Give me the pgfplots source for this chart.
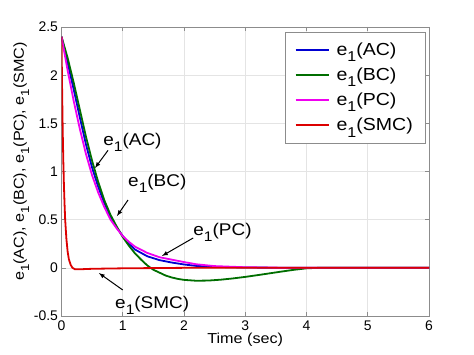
\documentclass[border=0pt]{standalone}
\usepackage{pgfplots}
\pgfplotsset{compat=1.18}
\usepackage{fontspec}
\setmainfont{Liberation Sans}
\newfontfamily\wide[FakeStretch=1.12]{Liberation Sans}
\definecolor{cAC}{RGB}{0,0,210}
\definecolor{cBC}{RGB}{0,110,0}
\definecolor{cPC}{RGB}{240,0,240}
\definecolor{cSMC}{RGB}{220,0,0}
\definecolor{axgray}{RGB}{140,140,140}
\definecolor{gridgray}{RGB}{228,228,228}
\newcommand{\eone}[1]{e\raisebox{-0.36em}{\scalebox{0.82}{1}}(#1)}
\pgfplotsset{mylegend/.style={legend image code/.code={\draw[##1, line width=1.8bp] (0bp,0bp) -- (33bp,0bp);}}}
\begin{document}
\begin{tikzpicture}
\begin{axis}[
  at={(0,0)}, anchor=south west,
  scale only axis, width=367.5bp, height=289bp,
  xmin=0, xmax=6, ymin=-0.5, ymax=2.5,
  xtick={0,1,2,3,4,5,6},
  ytick={-0.5,0,0.5,1,1.5,2,2.5},
  yticklabels={-0.5,0,0.5,1,1.5,2,2.5},
  xticklabels={0,1,2,3,4,5,6},
  tick align=inside,
  major tick length=4bp,
  axis line style={axgray, line width=0.8bp},
  every tick/.style={axgray, line width=0.6bp},
  grid=major,
  major grid style={gridgray, line width=0.6bp},
  ticklabel style={font=\fontsize{14}{16}\selectfont, text=black},
  xticklabel style={yshift=-1bp},
  xlabel={Time (sec)},
  xlabel style={font=\wide\fontsize{14.5}{17}\selectfont, yshift=4bp},
  ylabel={\eone{AC}, \eone{BC}, \eone{PC}, \eone{SMC}},
  ylabel style={font=\wide\fontsize{14.5}{17}\selectfont, yshift=-2bp, xshift=10bp},
  mylegend,
  legend cell align=left,
  legend style={at={(0.989,0.984)}, anchor=north east, draw=axgray,
    font=\wide\fontsize{17.5}{20}\selectfont, row sep=7bp, column sep=5bp,
    nodes={inner sep=2bp},
    inner xsep=10bp, inner ysep=9bp},
  every axis plot/.append style={line width=1.8bp},
]
\addplot[color=cAC] coordinates {
(0,2.4) (0.1,2.13) (0.2,1.85) (0.3,1.56) (0.4,1.28) (0.5,1.04) (0.6,0.84)
(0.7,0.67) (0.8,0.53) (0.9,0.42) (1.0,0.33) (1.1,0.25) (1.2,0.19) (1.4,0.12)
(1.6,0.08) (1.8,0.055) (2.0,0.035) (2.2,0.02) (2.5,0.01) (3,0.003) (4,0) (6,0)};
\addlegendentry{\eone{AC}}
\addplot[color=cBC] coordinates {
(0,2.4) (0.1,2.18) (0.2,1.92) (0.3,1.64) (0.4,1.36) (0.5,1.11) (0.6,0.89)
(0.7,0.70) (0.8,0.55) (0.9,0.43) (1.0,0.32) (1.1,0.23) (1.2,0.15) (1.3,0.085)
(1.4,0.025) (1.5,-0.02) (1.6,-0.05) (1.7,-0.08) (1.8,-0.1) (1.9,-0.115)
(2.0,-0.125) (2.2,-0.134) (2.4,-0.132) (2.6,-0.123) (2.8,-0.11) (3.0,-0.094)
(3.2,-0.076) (3.4,-0.057) (3.6,-0.038) (3.8,-0.02) (4.0,-0.005) (4.2,0) (6,0)};
\addlegendentry{\eone{BC}}
\addplot[color=cPC] coordinates {
(0,2.4) (0.1,2.05) (0.2,1.73) (0.3,1.44) (0.4,1.18) (0.5,0.96) (0.6,0.78)
(0.7,0.63) (0.8,0.5) (0.9,0.41) (1.0,0.33) (1.1,0.27) (1.2,0.22) (1.4,0.155)
(1.6,0.11) (1.8,0.085) (2.0,0.06) (2.2,0.037) (2.5,0.018) (3,0.006) (3.5,0.002)
(4,0) (6,0)};
\addlegendentry{\eone{PC}}
\addplot[color=cSMC] coordinates {
(0,2.4) (0.01,1.85) (0.02,1.42) (0.03,1.1) (0.04,0.85) (0.05,0.66) (0.06,0.5)
(0.08,0.3) (0.1,0.17) (0.12,0.09) (0.15,0.03) (0.18,0.0) (0.22,-0.015)
(0.3,-0.015) (0.5,-0.01) (1,-0.005) (2,0) (6,0)};
\addlegendentry{\eone{SMC}}
\begin{scope}[font=\wide\fontsize{17}{19}\selectfont]
\node[anchor=base west, inner sep=0pt] at (axis cs:0.68,1.275) {\eone{AC}};
\draw[-latex, line width=1bp] (axis cs:0.76,1.22) -- (axis cs:0.547,1.036);
\node[anchor=base west, inner sep=0pt] at (axis cs:1.086,0.842) {\eone{BC}};
\draw[-latex, line width=1bp] (axis cs:1.086,0.704) -- (axis cs:0.906,0.538);
\node[anchor=base west, inner sep=0pt] at (axis cs:2.15,0.34) {\eone{PC}};
\draw[-latex, line width=1bp] (axis cs:2.15,0.31) -- (axis cs:1.64,0.123);
\node[anchor=base west, inner sep=0pt] at (axis cs:0.874,-0.418) {\eone{SMC}};
\draw[-latex, line width=1bp] (axis cs:1.0,-0.23) -- (axis cs:0.61,-0.054);
\end{scope}
\end{axis}
\pgfresetboundingbox
\path[use as bounding box] (-61.5bp,-39bp) rectangle (412.5bp,316bp);
\end{tikzpicture}
\end{document}
